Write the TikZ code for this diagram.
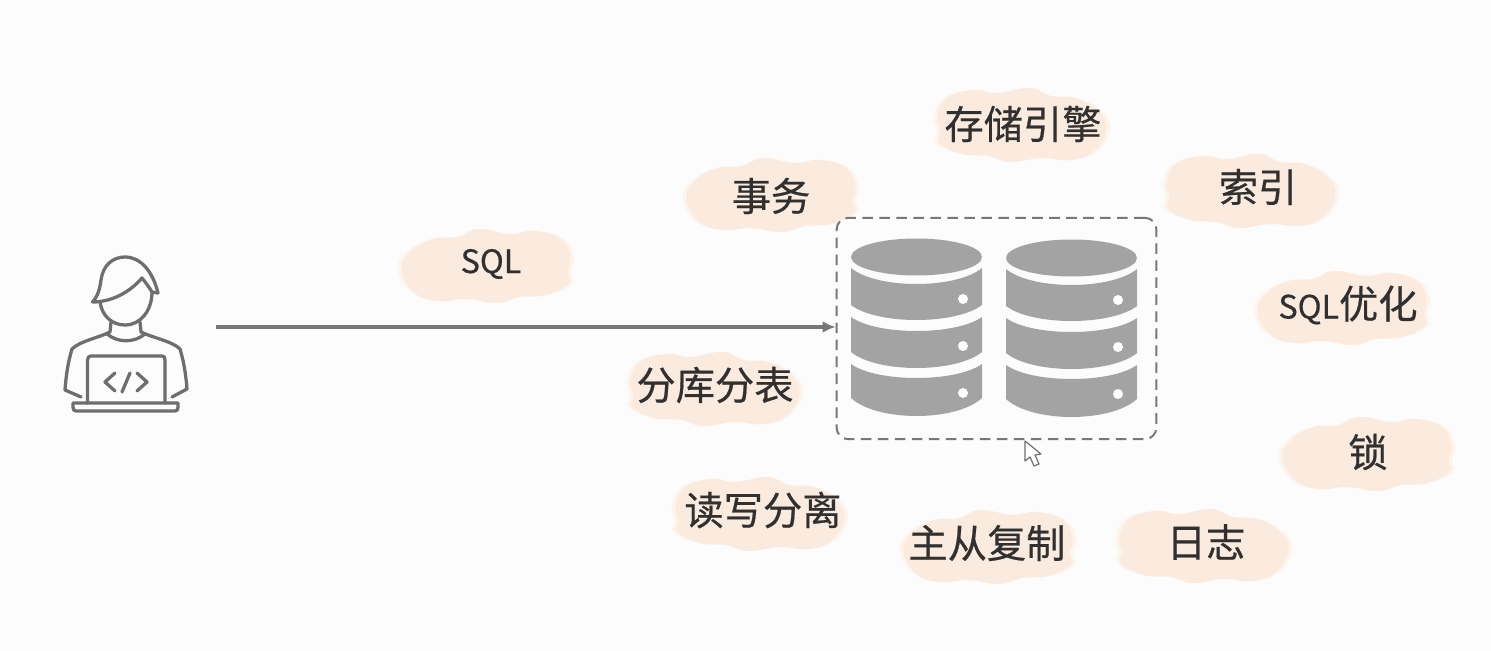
\documentclass[tikz,border=0pt]{standalone}
\usepackage{fontspec}
\usetikzlibrary{arrows.meta}
\setmainfont{Noto Sans CJK SC}[RawFeature={embolden=0.5}]
\definecolor{blobc}{HTML}{FBEBDF}
\definecolor{blobe}{HTML}{FDF4EC}
\definecolor{dbc}{HTML}{A3A3A3}
\definecolor{iconc}{HTML}{6E6E6E}
\definecolor{linec}{HTML}{777777}
\definecolor{textc}{HTML}{303030}
\tikzset{
  labeltext/.style={text=textc,font=\fontsize{33.5}{40}\selectfont,inner sep=0pt},
  icon/.style={draw=iconc,line width=2.8pt,line cap=round,line join=round},
  frame/.style={draw=linec,line width=1.7pt,dash pattern=on 9pt off 5.5pt,rounded corners=10pt,minimum width=273pt,minimum height=189pt,inner sep=0pt},
  link/.style={draw=linec,line width=2.8pt},
}
\newcommand{\sqlword}{{\fontsize{27.5}{40}\selectfont SQL}}
\newcommand{\blobshape}[4]{%
  \path[fill=#4,shift={(#1,#2)},xscale=#3] plot[smooth cycle,tension=0.75] coordinates {
   (-88,3) (-78,-15) (-55,-27) (-30,-29) (-8,-37) (25,-32) (50,-35) (78,-27) (88,-8)
   (85,6) (86,18) (62,29) (35,31) (12,37) (-20,33) (-50,35) (-75,26)};}
\newcommand{\blob}[7]{%
  \begin{scope}
  \blobshape{#2}{#3}{#6}{blobe}
  \blobshape{#2}{#3}{0.96*#6}{blobc}
  \end{scope}
  \node[labeltext] (#1) at (#4,#5) {#7};}
\newcommand{\dbseg}[4]{%
  \pgfmathsetmacro{\ca}{#1+4/3*(#2-#1)}%
  \pgfmathsetmacro{\cb}{#3+4/3*(#4-#3)}%
  \fill[dbc] (0,#1) .. controls (26,\ca) and (105,\ca) .. (131,#1) -- (131,#3)
     .. controls (105,\cb) and (26,\cb) .. (0,#3) -- cycle;}
\newcommand{\dbcyl}[2]{%
  \begin{scope}[shift={(#1,#2)}]
  \fill[dbc] (65.5,19) ellipse [x radius=65.5,y radius=18.5];
  \dbseg{30}{46}{67}{82}
  \dbseg{79}{93}{114}{130}
  \dbseg{126}{140}{160}{178}
  \foreach \yy in {61,108,155} \fill[white] (112,\yy) circle [radius=5];
  \end{scope}}
\begin{document}
\begin{tikzpicture}[x=0.03cm,y=-0.03cm]
\useasboundingbox (0,0) rectangle (1491,651);
\fill[white!99!black] (0,0) rectangle (1491,651);
% blobs and labels
\blob{sql}{486}{266}{491}{264}{1}{\sqlword}
\blob{engine}{1022}{125}{1023}{124}{-1}{存储引擎}
\blob{tx}{771}{195}{771}{196}{1}{事务}
\blob{index}{1251}{191}{1258}{187}{-1}{索引}
\blob{opt}{1342}{308}{1348}{305}{1}{\sqlword 优化}
\blob{shard}{715}{389}{715}{385}{-1}{分库分表}
\blob{lock}{1367}{454}{1368}{452}{1}{锁}
\blob{rw}{760}{514}{763}{510}{-1}{读写分离}
\blob{repl}{988}{547}{987}{543}{1}{主从复制}
\blob{log}{1204}{546}{1206}{542}{-1}{日志}
% user icon
\draw[icon] (92.5,302) .. controls (98,296) and (100,288) .. (101,280)
  .. controls (103,265) and (113,257) .. (125,257)
  .. controls (141,257) and (153,272) .. (158,293) -- (152,292)
  .. controls (149,287) and (146,283) .. (142,278)
  .. controls (130,292) and (112,302) .. (92.5,302) -- cycle;
\draw[icon] (100,302) .. controls (102,316) and (112,325) .. (125,325)
  .. controls (141,325) and (152,310) .. (152,292);
\draw[icon] (111,322) -- (110,332) .. controls (98,338) and (80,341) .. (72,349)
  .. controls (68,362) and (66,376) .. (65,390) -- (81,397);
\draw[icon] (140,322) -- (141,332) .. controls (153,338) and (172,341) .. (180,349)
  .. controls (184,362) and (186,376) .. (187,389) -- (172,397);
\draw[icon] (107,334) .. controls (118,343) and (134,343) .. (145,334);
\draw[icon] (87.5,403) -- (87.5,360) .. controls (87.5,357) and (89,356) .. (91,356)
  -- (162,356) .. controls (164,356) and (165,357) .. (165,360) -- (165,403);
\draw[icon] (73,403) -- (178,403) -- (178,407) .. controls (178,410) and (177,411) .. (175,411)
  -- (76,411) .. controls (74,411) and (73,410) .. (73,407) -- cycle;
\draw[icon] (115,373) -- (105,382) -- (115,391);
\draw[icon] (130,373) -- (122,392);
\draw[icon] (137,373) -- (147,382) -- (137,391);
% connector
\coordinate (userport) at (216,327);
\node[frame] (dbframe) at (996.5,328.5) {};
\draw[link,-{Latex[length=11pt,width=10pt]}] (userport) -- (userport -| dbframe.west);
% databases
\dbcyl{851}{238}
\dbcyl{1006}{239}
% mouse cursor
\draw[draw=iconc,fill=white,line width=1pt,line join=round] (1025,441) -- (1025,461) -- (1030,457)
  -- (1034,466) -- (1039,464) -- (1035,455) -- (1041,454) -- cycle;
\end{tikzpicture}
\end{document}
